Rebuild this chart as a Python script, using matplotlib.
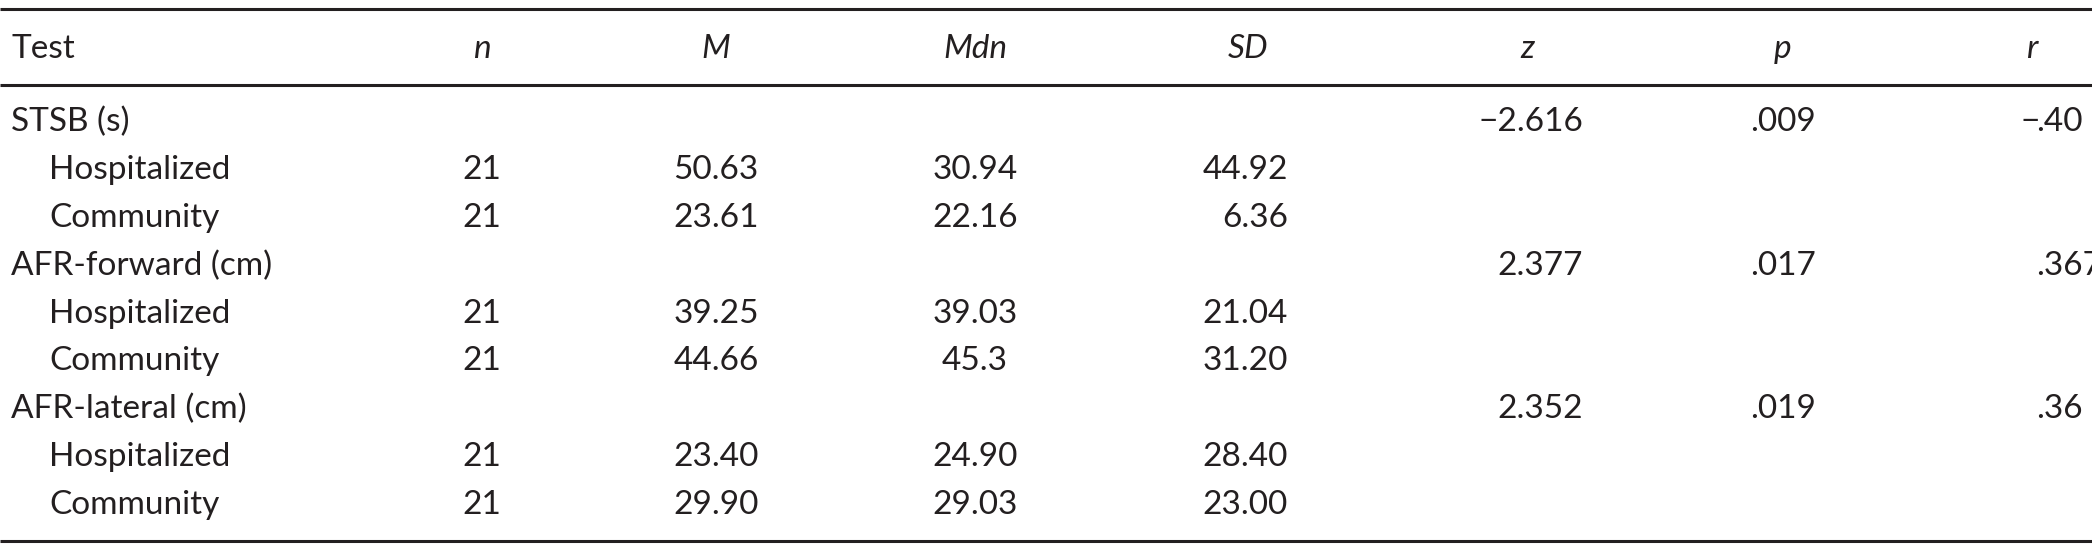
import matplotlib
matplotlib.use("Agg")
import matplotlib.pyplot as plt

headers = ["Test", "n", "M", "Mdn", "SD", "z", "p", "r"]
tests = ["STSB (s)", "AFR-forward (cm)", "AFR-lateral (cm)"]
groups = ["Hospitalized", "Community"]
n_vals = [["21", "21"], ["21", "21"], ["21", "21"]]
m_vals = [["50.63", "23.61"], ["39.25", "44.66"], ["23.40", "29.90"]]
mdn_vals = [["30.94", "22.16"], ["39.03", "45.3"], ["24.90", "29.03"]]
sd_vals = [["44.92", "6.36"], ["21.04", "31.20"], ["28.40", "23.00"]]
z_vals = ["\u22122.616", "2.377", "2.352"]
p_vals = [".009", ".017", ".019"]
r_vals = ["\u2212.40", ".367", ".36"]

W, H = 2092, 547
fig = plt.figure(figsize=(W/100, H/100), dpi=100)
ax = fig.add_axes([0, 0, 1, 1])
ax.set_xlim(0, W); ax.set_ylim(H, 0); ax.axis("off")
col = "#231f20"
fs = 24
kw = dict(fontsize=fs, color=col, family="Lato", va="center")

for y in (9, 85, 541):
    ax.plot([0, W], [y, y], color=col, lw=2.2, solid_capstyle="butt")

hy = 49
ax.text(11, hy, headers[0], ha="left", **kw)
hx = [482, 716, 975, 1248, 1527, 1783, 2032]
for x, h in zip(hx, headers[1:]):
    ax.text(x, hy, h, ha="center", style="italic", **kw)

y0, dy = 122, 47.9
for i, t in enumerate(tests):
    y = y0 + 3*i*dy
    ax.text(11, y, t, ha="left", **kw)
    ax.text(1583, y, z_vals[i], ha="right", **kw)
    ax.text(1783, y, p_vals[i], ha="center", **kw)
    rv = r_vals[i]
    if rv.startswith("\u2212"):
        ax.text(2040, y, "\u2212", ha="right", **kw)
        ax.text(2036, y, rv[1:], ha="left", **kw)
    else:
        ax.text(2036, y, rv, ha="left", **kw)
    for j, g in enumerate(groups):
        yy = y + (j+1)*dy
        ax.text(49, yy, g, ha="left", **kw)
        ax.text(482, yy, n_vals[i][j], ha="center", **kw)
        ax.text(716, yy, m_vals[i][j], ha="center", **kw)
        ax.text(975, yy, mdn_vals[i][j], ha="center", **kw)
        ax.text(1288, yy, sd_vals[i][j], ha="right", **kw)

fig.savefig("out.png", dpi=100, facecolor="white")
